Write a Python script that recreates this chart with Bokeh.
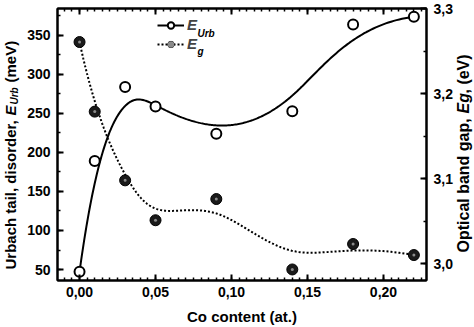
import numpy as np
from bokeh.plotting import figure
from bokeh.models import (Range1d, LinearAxis, SingleIntervalTicker, CustomJSTickFormatter,
                          Legend, LegendItem)
from bokeh.core.properties import value
from bokeh.embed import file_html
from bokeh.resources import INLINE

# ---- data ----
co_content = [0.00, 0.01, 0.03, 0.05, 0.09, 0.14, 0.18, 0.22]
e_urb = [47, 189, 284, 259, 224, 253, 364, 374]                  # meV (left axis)
e_g = [3.261, 3.179, 3.098, 3.051, 3.076, 2.993, 3.023, 3.010]   # eV (right axis)

FONT = "Liberation Sans"


def bspline(cx, cy, k=3, n_out=300):
    """Origin-style B-spline connection: data points used as control points."""
    cx = np.asarray(cx, float)
    cy = np.asarray(cy, float)
    n = len(cx)
    t = np.array([0] * k + list(range(n - k + 1)) + [n - k] * k, float)
    u = np.linspace(0, n - k, n_out)
    u[-1] -= 1e-9

    def basis(i, d):
        if d == 0:
            return ((t[i] <= u) & (u < t[i + 1])).astype(float)
        out = np.zeros_like(u)
        den1 = t[i + d] - t[i]
        den2 = t[i + d + 1] - t[i + 1]
        if den1 > 0:
            out += (u - t[i]) / den1 * basis(i, d - 1)
        if den2 > 0:
            out += (t[i + d + 1] - u) / den2 * basis(i + 1, d - 1)
        return out

    B = np.array([basis(i, k) for i in range(n)])
    return B.T @ cx, B.T @ cy


xr = Range1d(-0.0145, 0.2283)
yr = Range1d(35.9, 384.6)
p = figure(width=474, height=327, output_backend="svg", toolbar_location=None,
           x_range=xr, y_range=yr,
           min_border_left=57, min_border_right=48, min_border_top=8, min_border_bottom=47)
p.extra_y_ranges = {"eg": Range1d(2.98, 3.3005)}
p.xgrid.visible = False
p.ygrid.visible = False
p.outline_line_color = "black"
p.outline_line_width = 2
p.background_fill_color = "white"
p.border_fill_color = "white"

xax = p.below[0]
yax = p.left[0]
top_axis = LinearAxis()
right_axis = LinearAxis(y_range_name="eg")
p.add_layout(top_axis, "above")
p.add_layout(right_axis, "right")

for ax in [xax, yax, top_axis, right_axis]:
    ax.axis_line_width = 2
    ax.major_tick_line_width = 2
    ax.minor_tick_line_width = 1.5
    ax.major_tick_in = 6
    ax.major_tick_out = 0
    ax.minor_tick_in = 3
    ax.minor_tick_out = 0
    ax.major_label_text_font = FONT
    ax.major_label_text_font_style = "bold"
    ax.major_label_text_font_size = "14px"
    ax.major_label_text_color = "black"
    ax.axis_label_text_font = FONT
    ax.axis_label_text_font_style = "bold"
    ax.axis_label_text_font_size = "15px"
    ax.axis_label_text_color = "black"

xax.ticker = SingleIntervalTicker(interval=0.05, num_minor_ticks=10)
top_axis.ticker = SingleIntervalTicker(interval=0.05, num_minor_ticks=10)
yax.ticker = SingleIntervalTicker(interval=50, num_minor_ticks=2)
right_axis.ticker = SingleIntervalTicker(interval=0.1, num_minor_ticks=2)

xax.formatter = CustomJSTickFormatter(code="return tick.toFixed(2).replace('.', ',');")
right_axis.formatter = CustomJSTickFormatter(code="return tick.toFixed(1).replace('.', ',');")
top_axis.formatter = CustomJSTickFormatter(code="return '';")
top_axis.major_label_text_font_size = "1px"
top_axis.major_label_standoff = 0

xax.axis_label = "Co content (at.)"
xax.major_label_standoff = 6
xax.axis_label_standoff = 8
yax.major_label_standoff = 7
right_axis.major_label_standoff = 7

# ---- curves (B-spline connection) ----
bx1, by1 = bspline(co_content, e_urb)
bx2, by2 = bspline(co_content, e_g)
l1 = p.line(bx1, by1, line_color="black", line_width=2)
l2 = p.line(bx2, by2, line_color="black", line_width=2, line_dash="2 2", y_range_name="eg")

s1 = p.scatter(co_content, e_urb, marker="circle", size=10, fill_color="white",
               line_color="black", line_width=2)
s2 = p.scatter(co_content, e_g, marker="circle", size=11, fill_color="#1a1a1a",
               line_color="black", line_width=1, y_range_name="eg")
s2b = p.scatter(co_content, e_g, marker="circle", size=3, fill_color="#8a8a8a",
                line_color=None, y_range_name="eg")

legend = Legend(items=[LegendItem(label=value("E"), renderers=[l1, s1]),
                       LegendItem(label=value("E"), renderers=[l2, s2, s2b])],
                location=(100, 228), orientation="vertical")
legend.border_line_color = None
legend.background_fill_alpha = 0
legend.padding = 0
legend.margin = 0
legend.spacing = 2
legend.glyph_width = 27
legend.glyph_height = 16
legend.label_height = 16
legend.label_standoff = 3
legend.label_text_font = FONT
legend.label_text_font_style = "bold italic"
legend.label_text_font_size = "15px"
p.add_layout(legend)


def txt(s, ax_x, ax_y, dx, dy, size, style="bold", angle=0.0, baseline="alphabetic",
        yname="default"):
    """Text anchored at a frame corner, offset in pixels (drawn above the frame clip)."""
    p.text(x=[ax_x], y=[ax_y], text=[s], x_offset=dx, y_offset=dy, angle=angle,
           text_font=value(FONT), text_font_size=size, text_font_style=style,
           text_color="black", text_align="left", text_baseline=baseline,
           y_range_name=yname, level="overlay")


X0, X1, Y0 = xr.start, xr.end, yr.start
A = np.pi / 2

# legend subscripts
txt("Urb", X0, Y0, 140, -247, "10px", "bold italic")
txt("g", X0, Y0, 140, -229, "10px", "bold italic")

# left axis title (rotated, with subscript)
txt("Urbach tail, disorder,", X0, Y0, -47, -11, "15px", "bold", A, "middle")
txt("E", X0, Y0, -47, -165, "15px", "bold italic", A, "middle")
txt("Urb", X0, Y0, -43.5, -176, "10px", "bold italic", A, "middle")
txt("(meV)", X0, Y0, -47, -198, "15px", "bold", A, "middle")

# right axis title (rotated, italic Eg)
txt("Optical band gap,", X1, Y0, 37, -28, "16px", "bold", A, "middle")
txt("Eg", X1, Y0, 37, -167, "16px", "bold italic", A, "middle")
txt(", (eV)", X1, Y0, 37, -187, "16px", "bold", A, "middle")

open("out.html", "w").write(file_html(p, INLINE))
